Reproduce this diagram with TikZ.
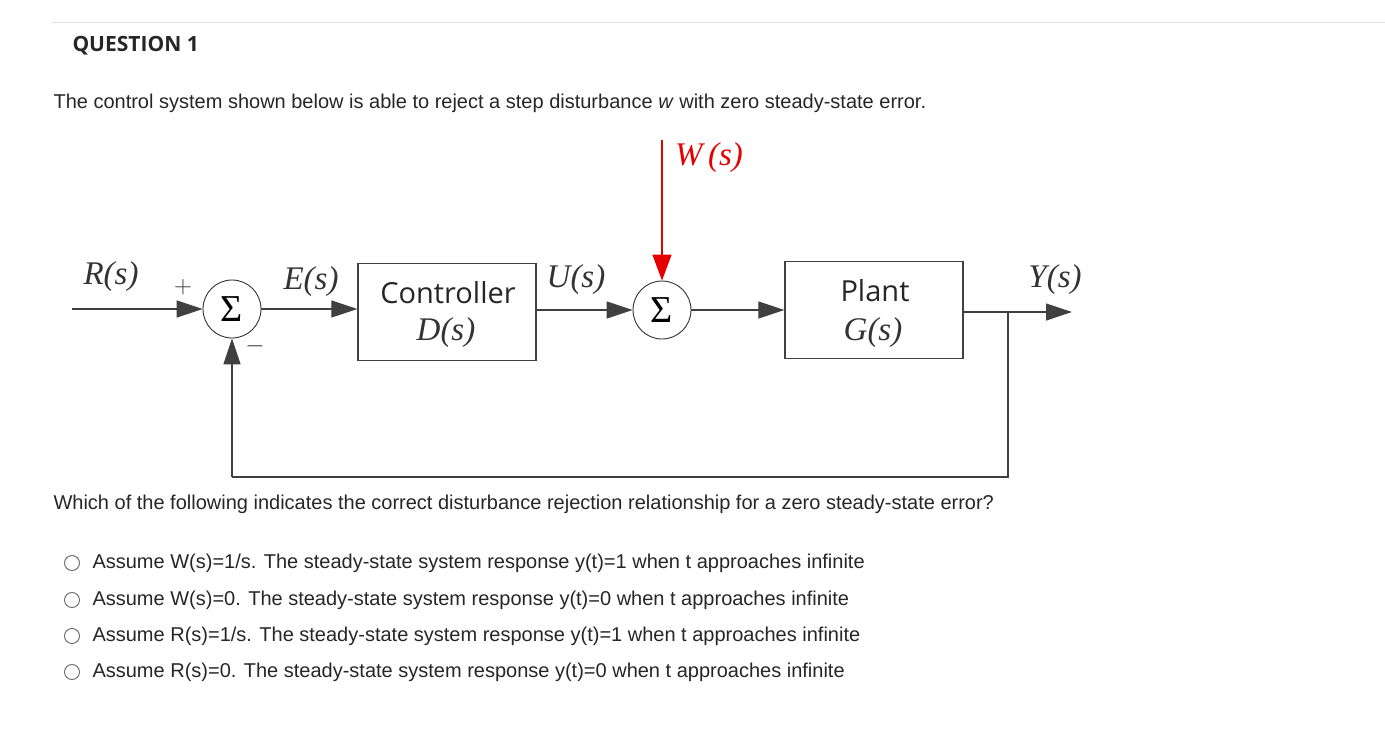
\documentclass[tikz,border=0pt]{standalone}
\usepackage{fontspec}
\setmainfont{Liberation Serif}
\newfontfamily\arial{Liberation Sans}
\newfontfamily\opens{Open Sans}
\usetikzlibrary{arrows.meta}
\begin{document}
\begin{tikzpicture}[x=1pt,y=-1pt,
  sig/.style={draw=black!75,line width=1.2pt,-{Triangle[length=26pt,width=17pt]}},
  ln/.style={draw=black!75,line width=1.2pt},
  sum/.style={circle,draw=black!80,line width=0.9pt,minimum size=58pt,inner sep=0pt,font=\fontsize{38}{38}\selectfont},
  blk/.style={draw=black!75,line width=1.4pt,align=center,inner sep=0pt},
  lab/.style={font=\fontsize{33}{33}\selectfont\itshape,text=black!80},
  body/.style={font=\arial\fontsize{20}{22}\selectfont,text=black!85,anchor=west},
  radio/.style={circle,draw=black!55,line width=1pt,minimum size=15pt,inner sep=0pt}]
\useasboundingbox (0,0) rectangle (1385,736);
\draw[black!12,line width=1pt] (52,22) -- (1385,22);
\node[anchor=west,font=\opens\bfseries\fontsize{21}{24}\selectfont,text=black!85] (q) at (69,46) {QUESTION 1};
\node[body] (t1) at (50,103) {The control system shown below is able to reject a step disturbance \textit{w} with zero steady-state error.};
% diagram
\coordinate (rin) at (72,309);
\node[sum] (s1) at (232,309) {Σ};
\node[sum] (s2) at (662,310) {Σ};
\node[blk,minimum width=178pt,minimum height=97pt] (c) at (447,312) {};
\node[font=\opens\fontsize{29}{30}\selectfont,text=black!85] (ct) at (448,293) {Controller};
\node[lab] (cd) at (446,333) {D(s)};
\node[blk,minimum width=178pt,minimum height=97pt] (p) at (874,310) {};
\node[font=\opens\fontsize{29}{30}\selectfont,text=black!85] (pt) at (875,291) {Plant};
\node[lab] (pg) at (873,333) {G(s)};
\coordinate (wtop) at (662,140);
\coordinate (br) at (1008,312);
\coordinate (yout) at (1072,312);
\coordinate (bb) at (1008,477);
\coordinate (bl) at (232,477);
\draw[sig] (rin) -- (s1);
\draw[sig] (s1) -- (c.west|-s1);
\draw[sig] (c.east|-s2) -- (s2);
\draw[sig] (s2) -- (p.west|-s2);
\draw[ln] (p.east|-br) -- (br);
\draw[sig] (br) -- (yout);
\draw[ln] (br) -- (bb) -- (bl);
\draw[sig] (bl) -- (s1);
\draw[draw=red!90!black,line width=1.4pt,-{Triangle[length=26pt,width=19pt]}] (wtop) -- (s2);
\node[lab] (rl) at (111,277) {R(s)};
\node[font=\fontsize{24}{24}\selectfont,text=black!80] (pl) at (183,287) {$+$};
\node[font=\fontsize{24}{24}\selectfont,text=black!80] (mi) at (255,346) {$-$};
\node[lab] (el) at (311,282) {E(s)};
\node[lab] (ul) at (576,280) {U(s)};
\node[lab] (yl) at (1055,280) {Y(s)};
\node[lab,text=red!90!black] (wl) at (709,158) {W\,(s)};
% question
\node[body] (t2) at (50,504) {Which of the following indicates the correct disturbance rejection relationship for a zero steady-state error?};
\node[radio] (r1) at (72,563) {};
\node[body] (o1) at (89,563) {Assume W(s)=1/s. The steady-state system response y(t)=1 when t approaches infinite};
\node[radio] (r2) at (72,600) {};
\node[body] (o2) at (89,600) {Assume W(s)=0. The steady-state system response y(t)=0 when t approaches infinite};
\node[radio] (r3) at (72,636) {};
\node[body] (o3) at (89,636) {Assume R(s)=1/s. The steady-state system response y(t)=1 when t approaches infinite};
\node[radio] (r4) at (72,672) {};
\node[body] (o4) at (89,672) {Assume R(s)=0. The steady-state system response y(t)=0 when t approaches infinite};
\end{tikzpicture}
\end{document}
